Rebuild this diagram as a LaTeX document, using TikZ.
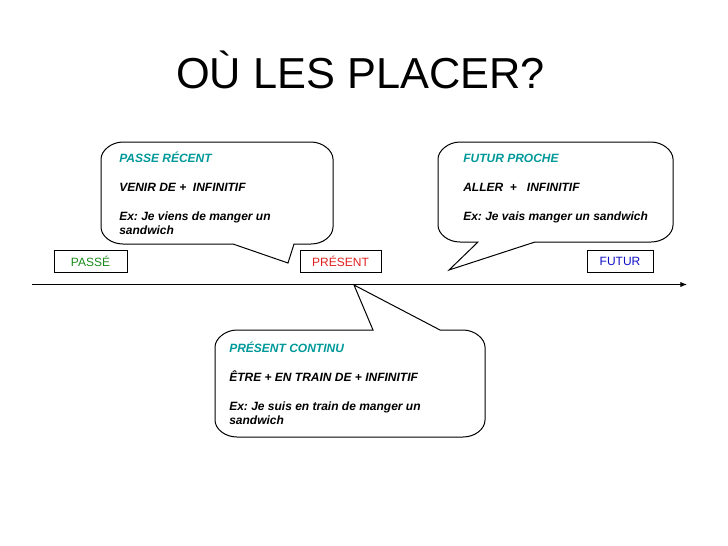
\documentclass[tikz,border=0pt]{standalone}
\usepackage{fontspec}
\setmainfont{Liberation Sans}
\usepackage{xcolor}
\definecolor{tense-teal}{HTML}{009999}
\definecolor{tense-green}{HTML}{1A8A1A}
\definecolor{tense-red}{HTML}{E02020}
\definecolor{tense-blue}{HTML}{1010C8}
\usepackage{tikz}
\usetikzlibrary{arrows.meta}
\frenchspacing
\tikzset{box/.style = {draw, line width=0.75pt, inner sep=0pt, minimum height=16.5pt, align=center, font=\fontsize{9}{10.5}\selectfont}}
\tikzset{bubble/.style = {draw, line width=0.75pt, fill=white}}
\tikzset{bubtext/.style = {anchor=base west, inner sep=0pt, align=left, font=\fontsize{9}{10.5}\selectfont\bfseries\itshape}}
\tikzset{arr/.style = {line width=0.75pt, -{Latex[length=5pt,width=4pt]}}}

\begin{document}
\begin{tikzpicture}[x=0.75pt, y=-0.75pt]
\useasboundingbox (0,0) rectangle (728,546);

\node[anchor=base, inner sep=0pt, font=\fontsize{32.5}{39}\selectfont] (title) at (360.5,88) {OÙ LES PLACER?};

% the time line
\coordinate (t0) at (32,284.5);
\coordinate (t1) at (687,284.5);
\draw[arr] (t0) -- (t1);

\node[box, minimum width=54.75pt, text=tense-green] (passe) at (90.5,261) {PASSÉ};
\node[box, minimum width=60.75pt, text=tense-red] (present) at (340.5,261) {PRÉSENT};
\node[box, minimum width=49.5pt, text=tense-blue] (futur) at (620,261.5) {FUTUR};

% callouts (pointer corners stay sharp)
\draw[bubble] (123,142) -- (311,142) .. controls (323,142) and (333,151) .. (333,159) -- (333,227)
  .. controls (333,236) and (323,244) .. (311,244) -- (294,244) -- (288,263) -- (233,244) -- (123,244)
  .. controls (111,244) and (101,236) .. (101,227) -- (101,159)
  .. controls (101,151) and (111,142) .. (123,142) -- cycle;
\draw[bubble] (460,142) -- (651,142) .. controls (663,142) and (673,151) .. (673,159) -- (673,225)
  .. controls (673,234) and (663,242) .. (651,242) -- (535,242) -- (449,270) -- (478,242) -- (460,242)
  .. controls (448,242) and (438,234) .. (438,225) -- (438,159)
  .. controls (438,151) and (448,142) .. (460,142) -- cycle;
\draw[bubble] (237,330) -- (373,330) -- (354,285) -- (440,330) -- (463,330)
  .. controls (475,330) and (485,339) .. (485,347) -- (485,420)
  .. controls (485,429) and (475,437) .. (463,437) -- (237,437)
  .. controls (225,437) and (215,429) .. (215,420) -- (215,347)
  .. controls (215,339) and (225,330) .. (237,330) -- cycle;

% base anchor = last line
\node[bubtext] (recent) at (119,234.5) {
  \textcolor{tense-teal}{PASSE RÉCENT}\\[11.25pt]
  VENIR DE +\ \ INFINITIF\\[11.25pt]
  Ex: Je viens de manger un\\
  sandwich
};
\node[bubtext] (proche) at (463,220.5) {
  \textcolor{tense-teal}{FUTUR PROCHE}\\[11.25pt]
  ALLER\ \ +\ \ \ INFINITIF\\[11.25pt]
  Ex: Je vais manger un sandwich
};
\node[bubtext] (continu) at (229,424.5) {
  \textcolor{tense-teal}{PRÉSENT CONTINU}\\[11.25pt]
  ÊTRE + EN TRAIN DE + INFINITIF\\[11.25pt]
  Ex: Je suis en train de manger un\\
  sandwich
};

\end{tikzpicture}
\end{document}
